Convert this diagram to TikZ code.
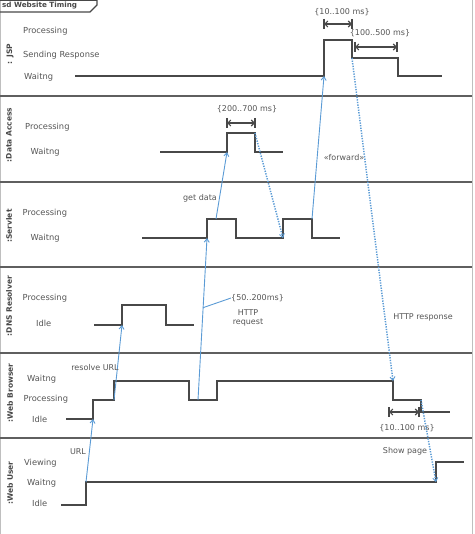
\documentclass[tikz,border=0pt]{standalone}
\usepackage{fontspec}
\setmainfont{DejaVu Sans}
\usetikzlibrary{arrows.meta,calc}
\definecolor{msg}{RGB}{91,155,213}
\definecolor{wave}{RGB}{72,72,72}
\definecolor{txt}{RGB}{85,85,85}
\definecolor{sepc}{RGB}{95,95,95}
\begin{document}
\begin{tikzpicture}[x=1pt,y=-1pt,
  lbl/.style={font=\fontsize{8.3}{9}\selectfont, text=txt, inner sep=0pt, anchor=west},
  note/.style={font=\fontsize{8}{9.5}\selectfont, text=txt, inner sep=0pt, align=center},
  lane/.style={font=\fontsize{7.5}{9}\selectfont\bfseries, text=wave, rotate=90, inner sep=0pt},
  wavel/.style={draw=wave, line width=1.4pt, line join=miter},
  sepl/.style={draw=sepc, line width=1.8pt},
  msgs/.style={draw=msg, line width=0.9pt, -{Straight Barb[length=3.5pt,width=5pt]}},
  msgd/.style={draw=msg, line width=1.5pt, dash pattern=on 1.3pt off 1.3pt, -{Straight Barb[length=3.5pt,width=5pt,line width=0.9pt]}},
  dimline/.style={draw=wave, line width=1.1pt, {Straight Barb[length=3pt,width=6pt]}-{Straight Barb[length=3pt,width=6pt]}},
  dimbar/.style={draw=wave, line width=1.1pt},
]
\useasboundingbox (0,0) rectangle (474,534);
% frame
\draw[draw=black!25, line width=0.8pt] (0.5,-2) -- (0.5,534) (472,-2) -- (472,534);
\draw[draw=wave, line width=1.2pt] (0,0.5) -- (97,0.5);
\draw[draw=wave, line width=1.2pt] (0,12) -- (90,12) -- (97,5) -- (97,0);
\node[font=\fontsize{7.2}{8}\selectfont\bfseries, text=wave, inner sep=0pt, anchor=west] (title) at (2,6) {sd Website Timing};
% lane separators
\foreach \yy [count=\i] in {96,182,267,353,438}
  \draw[sepl] (0,\yy) -- (472,\yy);
% lane labels
\node[lane] (lJSP) at (10,54) {: JSP};
\node[lane] (lDA) at (9,135) {:Data Access};
\node[lane] (lSV) at (9,226) {:Servlet};
\node[lane] (lDNS) at (9,306) {:DNS Resolver};
\node[lane] (lWB) at (10,393) {:Web Browser};
\node[lane] (lWU) at (10,483) {:Web User};
% state labels
\node[lbl] (jp) at (23,31) {Processing};
\node[lbl] (js) at (23,55) {Sending Response};
\node[lbl] (jw) at (24,77) {Waitng};
\node[lbl] (dp) at (25,127) {Processing};
\node[lbl] (dw) at (30.5,152) {Waitng};
\node[lbl] (sp) at (22.5,213) {Processing};
\node[lbl] (sw) at (30.5,238) {Waitng};
\node[lbl] (np) at (22.5,298) {Processing};
\node[lbl] (ni) at (36,323) {Idle};
\node[lbl] (bw) at (27,379) {Waitng};
\node[lbl] (bp) at (23.5,399) {Processing};
\node[lbl] (bi) at (32,419) {Idle};
\node[lbl] (uv) at (24,463) {Viewing};
\node[lbl] (uw) at (27,483) {Waitng};
\node[lbl] (ui) at (32,503) {Idle};
% waveform vertices
\coordinate (j0) at (75,76); \coordinate (j1) at (324,76); \coordinate (j2) at (324,40);
\coordinate (j3) at (352,40); \coordinate (j4) at (352,58); \coordinate (j5) at (398,58);
\coordinate (j6) at (398,76); \coordinate (j7) at (442,76);
\coordinate (d0) at (160,152); \coordinate (d1) at (227,152); \coordinate (d2) at (227,133);
\coordinate (d3) at (255,133); \coordinate (d4) at (255,152); \coordinate (d5) at (283,152);
\coordinate (s0) at (142,238); \coordinate (s1) at (207,238); \coordinate (s2) at (207,219);
\coordinate (s3) at (236,219); \coordinate (s4) at (236,238); \coordinate (s5) at (283,238);
\coordinate (s6) at (283,219); \coordinate (s7) at (312,219); \coordinate (s8) at (312,238);
\coordinate (s9) at (340,238);
\coordinate (n0) at (94,325); \coordinate (n1) at (122,325); \coordinate (n2) at (122,305);
\coordinate (n3) at (166,305); \coordinate (n4) at (166,325); \coordinate (n5) at (194,325);
\coordinate (b0) at (66,419); \coordinate (b1) at (93,419); \coordinate (b2) at (93,400);
\coordinate (b3) at (114,400); \coordinate (b4) at (114,381); \coordinate (b5) at (189,381);
\coordinate (b6) at (189,400); \coordinate (b7) at (217,400); \coordinate (b8) at (217,381);
\coordinate (b9) at (393,381); \coordinate (b10) at (393,400); \coordinate (b11) at (421,400);
\coordinate (b12) at (421,412); \coordinate (b13) at (450,412);
\coordinate (u0) at (61,505); \coordinate (u1) at (86,505); \coordinate (u2) at (86,482);
\coordinate (u3) at (436,482); \coordinate (u4) at (436,462); \coordinate (u5) at (464,462);
% waveforms
\draw[wavel] (j0) -- (j1) -- (j2) -- (j3) -- (j4) -- (j5) -- (j6) -- (j7);
\draw[wavel] (d0) -- (d1) -- (d2) -- (d3) -- (d4) -- (d5);
\draw[wavel] (s0) -- (s1) -- (s2) -- (s3) -- (s4) -- (s5) -- (s6) -- (s7) -- (s8) -- (s9);
\draw[wavel] (n0) -- (n1) -- (n2) -- (n3) -- (n4) -- (n5);
\draw[wavel] (b0) -- (b1) -- (b2) -- (b3) -- (b4) -- (b5) -- (b6) -- (b7) -- (b8) -- (b9) -- (b10) -- (b11) -- (b12) -- (b13);
\draw[wavel] (u0) -- (u1) -- (u2) -- (u3) -- (u4) -- (u5);
% dimension markers
\coordinate (da1) at (324,24); \coordinate (da2) at (352,24);
\coordinate (db1) at (355,47); \coordinate (db2) at (397,47);
\coordinate (dc1) at (227,123); \coordinate (dc2) at (255,123);
\coordinate (dd1) at (389,412); \coordinate (dd2) at (419,412);
\foreach \a/\b in {da1/da2,db1/db2,dc1/dc2,dd1/dd2}{
  \draw[dimline] (\a) -- (\b);
  \draw[dimbar] ($(\a)+(0,-5)$) -- ($(\a)+(0,5)$);
  \draw[dimbar] ($(\b)+(0,-5)$) -- ($(\b)+(0,5)$);
}
\node[note] (t1) at (342,12) {\{10..100 ms\}};
\node[note] (t2) at (380,33) {\{100..500 ms\}};
\node[note] (t3) at (247,109) {\{200..700 ms\}};
\node[note] (t4) at (407,428) {\{10..100 ms\}};
% messages
\coordinate (hr) at (198,400);
\coordinate (gd) at (216,219);
\draw[msgs] (u2) -- (b1);
\draw[msgs] (b3) -- (n1);
\draw[msgs] (hr) -- (s1);
\draw[msgs] (gd) -- (d1);
\draw[msgs] (s7) -- (j1);
\draw[msgd] (d3) -- (s5);
\draw[msgd] (j4) -- (b9);
\draw[msgd] (b11) -- (u3);
% message labels
\node[note] (mURL) at (78,452) {URL};
\node[note] (mres) at (95,368) {resolve URL};
\node[note] (mgd) at (200,198) {get data};
\node[note] (mfw) at (344,158) {\guillemotleft forward\guillemotright};
\node[note, anchor=west] (mdur) at (231,298) {\{50..200ms\}};
\node[note] (mreq) at (248,318) {HTTP\\request};
\node[note] (mresp) at (423,317) {HTTP response};
\node[note] (mshow) at (405,451) {Show page};
\coordinate (cal) at ($(hr)!0.57!(s1)$);
\draw[draw=msg, line width=0.9pt] (cal) -- (mdur.west);
\end{tikzpicture}
\end{document}
